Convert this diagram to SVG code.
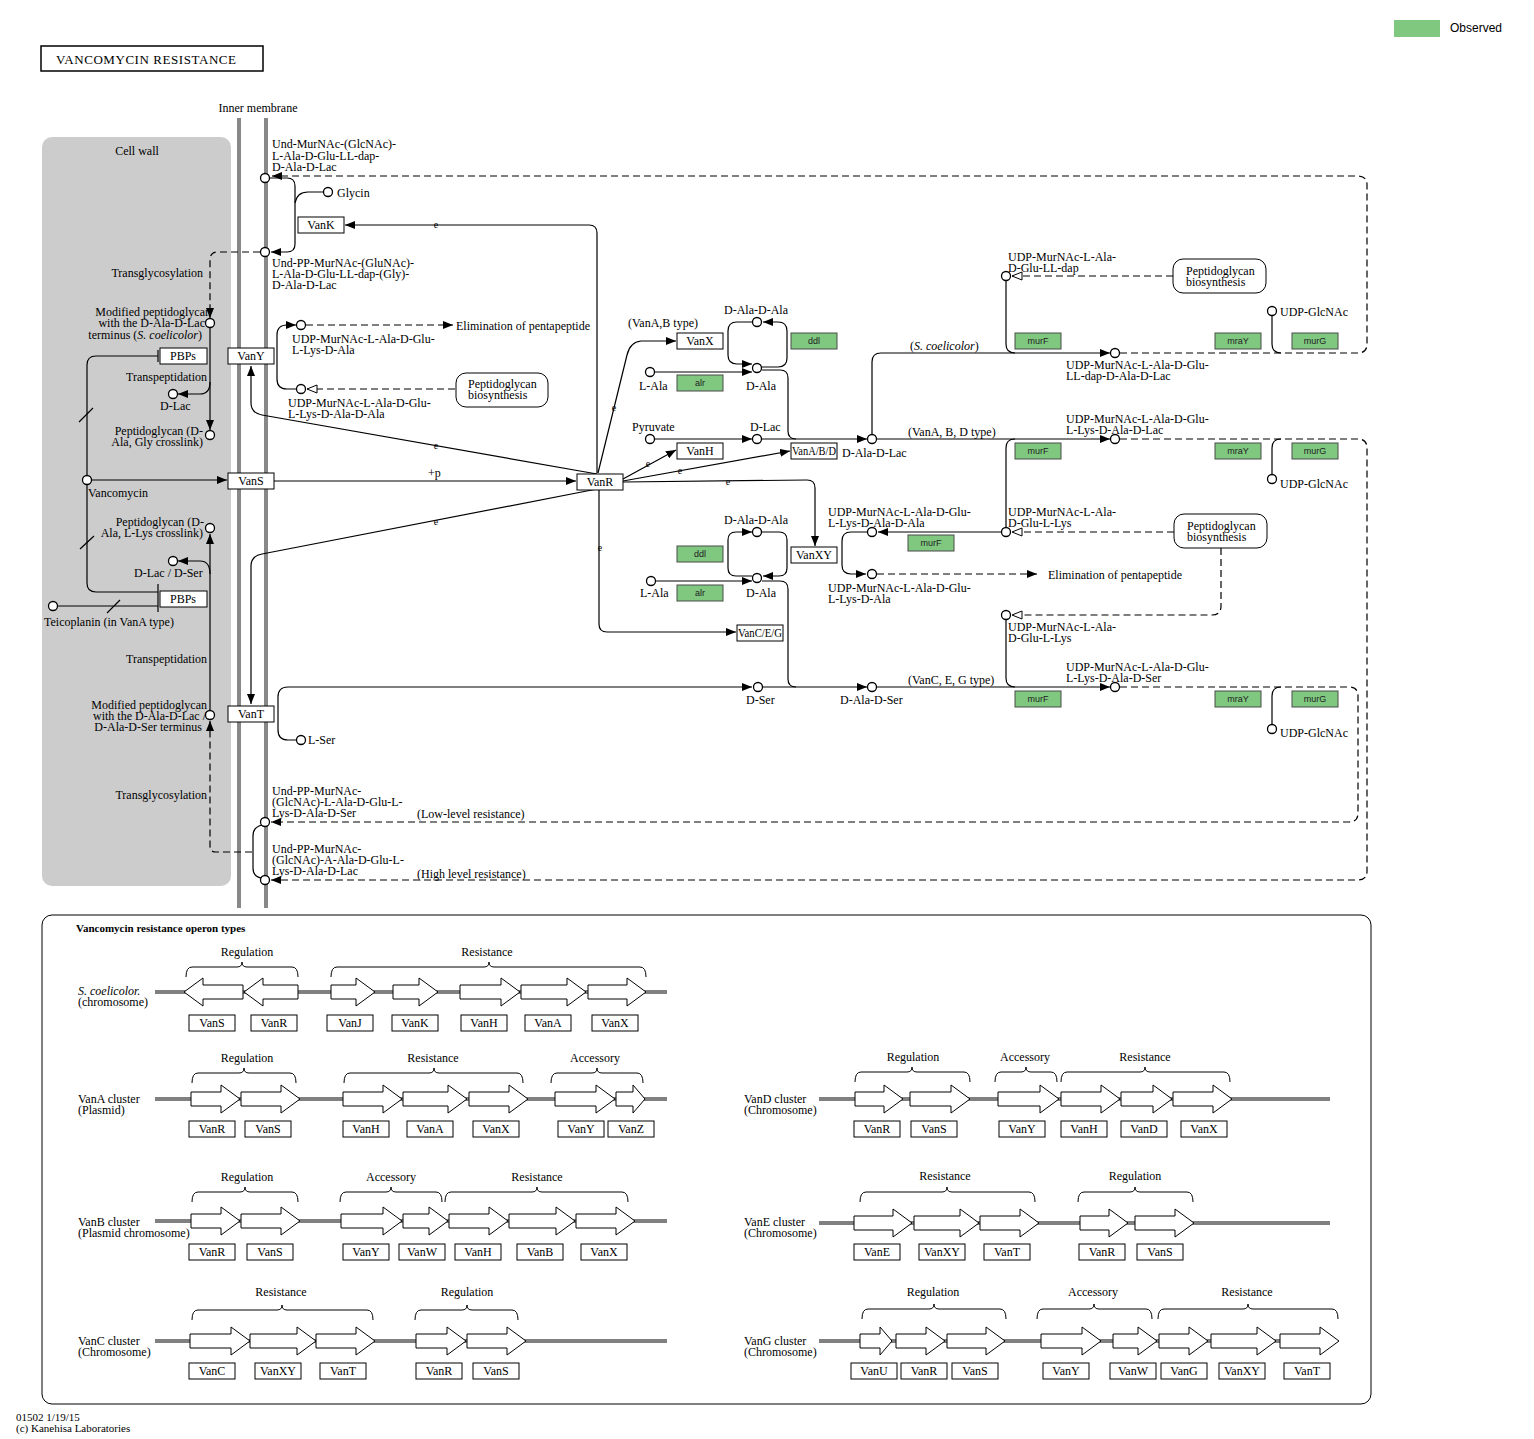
<svg xmlns="http://www.w3.org/2000/svg" width="1534" height="1439" viewBox="0 0 1534 1439">
<defs>
<style>
.t{font-family:"Liberation Serif",serif;font-size:12px;fill:#000}
.r{text-anchor:end}
.m{text-anchor:middle}
.e{font-family:"Liberation Serif",serif;font-size:10px;text-anchor:middle;fill:#000}
.g{font-family:"Liberation Sans",sans-serif;font-size:9px;fill:#222;text-anchor:middle}
.c{fill:#fff;stroke:#000;stroke-width:1.3}
.b{fill:#fff;stroke:#000;stroke-width:1}
.en{fill:#80c880;stroke:#4a4a4a;stroke-width:1}
.ln{fill:none;stroke:#000;stroke-width:1.2}
.d{stroke-dasharray:7,4}
.gl{stroke:#808080;stroke-width:4}
.ga{fill:#fff;stroke:#000;stroke-width:1}
.br{fill:none;stroke:#000;stroke-width:1}
.mem{stroke:#888;stroke-width:4}
.pb{fill:#fff;stroke:#000;stroke-width:1}
</style>
<marker id="a" viewBox="0 0 10 8" refX="10" refY="4" markerWidth="10" markerHeight="8" orient="auto" markerUnits="userSpaceOnUse"><path d="M0,0L10,4L0,8z" fill="#000"/></marker>
<marker id="o" viewBox="0 0 12 10" refX="11" refY="5" markerWidth="12" markerHeight="10" orient="auto" markerUnits="userSpaceOnUse"><path d="M1,1L11,5L1,9z" fill="#fff" stroke="#000" stroke-width="1"/></marker>
</defs>
<rect width="1534" height="1439" fill="#fff"/>

<g id="title"><rect x="41" y="46" width="222" height="25" fill="#fff" stroke="#000" stroke-width="1.5"/><text class="t" x="56" y="64" style="font-size:13px" textLength="180">VANCOMYCIN RESISTANCE</text></g>
<g id="legend"><rect x="1394" y="20" width="46" height="17" fill="#80c880"/><text x="1450" y="32" font-family="Liberation Sans, sans-serif" font-size="12">Observed</text></g>

<g id="cellwall"><rect x="42" y="137" width="189" height="749" rx="10" fill="#ccc"/><text class="t m" x="137" y="155">Cell wall</text></g>
<g id="membrane"><line class="mem" x1="239" y1="118" x2="239" y2="908"/><line class="mem" x1="266" y1="118" x2="266" y2="908"/><text class="t m" x="258" y="112">Inner membrane</text></g>

<g id="connectors">
<path class="ln" d="M270,178L287,178Q295,178 295,186L295,244Q295,252 287,252L271,252" marker-end="url(#a)"/>
<path class="ln" d="M323,192L308,192Q297,192 295,203"/>
<path class="ln" d="M597,473L597,233Q597,225 589,225L345,225" marker-end="url(#a)"/>
<path class="ln d" d="M260,252L218,252Q210,252 210,260L210,318" marker-end="url(#a)"/>
<path class="ln" d="M210,328L210,430" marker-end="url(#a)"/>
<path class="ln" d="M210,382Q210,394 200,394L178,394" marker-end="url(#a)"/>
<path class="ln" d="M87,475L87,365Q87,356 96,356L158,356M158,350L158,362"/>
<path class="ln" d="M79,422L93,408M80,549L94,536M107,613L120,600"/>
<path class="ln" d="M92,480L227,480" marker-end="url(#a)"/>
<path class="ln" d="M274,481L576,481" marker-end="url(#a)"/>
<path class="ln" d="M87,485L87,583Q87,592 96,592L158,592M158,584L158,612M58,606L158,606"/>
<path class="ln" d="M210,710L210,534" marker-end="url(#a)"/>
<path class="ln" d="M210,574Q210,561 200,561L178,561" marker-end="url(#a)"/>
<path class="ln d" d="M252,852L216,852Q210,852 210,846L210,721" marker-end="url(#a)"/>
<path class="ln" d="M262,825Q253,827 253,836L253,868Q253,877 262,878"/>
<path class="ln" d="M597,474L262,415Q251,413 251,403L251,366" marker-end="url(#a)"/>
<path class="ln" d="M597,489L262,554Q251,556 251,566L251,704" marker-end="url(#a)"/>
<path class="ln" d="M296,740L288,740Q278,740 278,730L278,697Q278,687 288,687L752,687" marker-end="url(#a)"/>
<path class="ln" d="M296,389L287,389Q277,389 277,379L277,335Q277,325 287,325L296,325" marker-end="url(#a)"/>
<path class="ln d" d="M306,325L453,325" marker-end="url(#a)"/>
<path class="ln d" d="M455,389L307,389" marker-end="url(#o)"/>
<path class="ln" d="M598,473L627,355Q630,342 641,341L676,341" marker-end="url(#a)"/>
<path class="ln" d="M752,322L737,322Q728,322 728,331L728,355Q728,364 737,364L752,364" marker-end="url(#a)"/>
<path class="ln" d="M762,367L778,367Q787,367 787,358L787,331Q787,322 778,322L763,322" marker-end="url(#a)"/>
<path class="ln" d="M655,372L752,372" marker-end="url(#a)"/>
<path class="ln" d="M762,370L780,370Q788,370 788,378L788,431Q788,439 796,439"/>
<path class="ln" d="M655,439L752,439" marker-end="url(#a)"/>
<path class="ln" d="M762,439L867,439" marker-end="url(#a)"/>
<path class="ln" d="M623,479L676,450" marker-end="url(#a)"/>
<path class="ln" d="M623,481L790,451" marker-end="url(#a)"/>
<path class="ln" d="M623,482L807,480Q815,480 815,488L815,546" marker-end="url(#a)"/>
<path class="ln" d="M599,490L599,624Q599,632 607,632L736,632" marker-end="url(#a)"/>
<path class="ln" d="M752,576L736,576Q728,576 728,568L728,540Q728,532 736,532L752,532" marker-end="url(#a)"/>
<path class="ln" d="M762,532L779,532Q787,532 787,540L787,568Q787,576 779,576L763,576" marker-end="url(#a)"/>
<path class="ln" d="M656,581L752,581" marker-end="url(#a)"/>
<path class="ln" d="M762,581L780,581Q788,581 788,589L788,679Q788,687 796,687"/>
<path class="ln" d="M763,687L867,687" marker-end="url(#a)"/>
<path class="ln" d="M872,434L872,362Q872,353 881,353L1110,353" marker-end="url(#a)"/>
<path class="ln" d="M877,439L1110,439" marker-end="url(#a)"/>
<path class="ln" d="M1006,281L1006,344Q1006,353 1015,353"/>
<path class="ln d" d="M1173,276L1012,276" marker-end="url(#o)"/>
<path class="ln" d="M1272,316L1272,344Q1272,353 1281,353"/>
<path class="ln d" d="M1120,353L1358,353Q1367,353 1367,344L1367,185Q1367,176 1358,176L272,176" marker-end="url(#a)"/>
<path class="ln" d="M1006,527L1006,448Q1006,439 1015,439"/>
<path class="ln" d="M1272,474L1272,448Q1272,439 1281,439"/>
<path class="ln d" d="M1120,439L1358,439Q1367,439 1367,448L1367,871Q1367,880 1358,880L271,880" marker-end="url(#a)"/>
<path class="ln" d="M1001,532L878,532" marker-end="url(#a)"/>
<path class="ln d" d="M1174,532L1012,532" marker-end="url(#o)"/>
<path class="ln" d="M867,532L851,532Q842,532 842,541L842,565Q842,574 851,574L866,574" marker-end="url(#a)"/>
<path class="ln d" d="M877,574L1037,574" marker-end="url(#a)"/>
<path class="ln d" d="M1221,548L1221,606Q1221,615 1212,615L1012,615" marker-end="url(#o)"/>
<path class="ln" d="M1006,620L1006,678Q1006,687 1015,687"/>
<path class="ln" d="M877,687L1110,687" marker-end="url(#a)"/>
<path class="ln" d="M1272,724L1272,696Q1272,687 1281,687"/>
<path class="ln d" d="M1120,687L1349,687Q1358,687 1358,696L1358,813Q1358,822 1349,822L271,822" marker-end="url(#a)"/>
<text class="e" x="436" y="228">e</text>
<text class="e" x="436" y="449">e</text>
<text class="e" x="436" y="525">e</text>
<text class="e" x="614" y="411">e</text>
<text class="e" x="648" y="467">e</text>
<text class="e" x="680" y="474">e</text>
<text class="e" x="728" y="485">e</text>
<text class="e" x="600" y="551">e</text>
<text class="t" x="428" y="477">+p</text>
</g>

<g id="n-C1"><circle class="c" cx="265" cy="178" r="4.5"/><text class="t" x="272" y="148">Und-MurNAc-(GlcNAc)-</text><text class="t" x="272" y="160">L-Ala-D-Glu-LL-dap-</text><text class="t" x="272" y="171">D-Ala-D-Lac</text></g>
<g id="n-Glycin"><circle class="c" cx="328" cy="192" r="4.5"/><text class="t" x="337" y="197">Glycin</text></g>
<g id="n-C2"><circle class="c" cx="265" cy="252" r="4.5"/><text class="t" x="272" y="267">Und-PP-MurNAc-(GluNAc)-</text><text class="t" x="272" y="278">L-Ala-D-Glu-LL-dap-(Gly)-</text><text class="t" x="272" y="289">D-Ala-D-Lac</text></g>
<g id="n-VanK"><rect class="b" x="298" y="217" width="46" height="16"/><text class="t m" x="321" y="229">VanK</text></g>
<g id="lbl-transgly1"><text class="t r" x="203" y="277">Transglycosylation</text></g>
<g id="n-ModPep1"><circle class="c" cx="210" cy="323" r="4.5"/><text class="t r" x="211" y="316">Modified peptidoglycan</text><text class="t r" x="205" y="327">with the D-Ala-D-Lac</text><text class="t r" x="202" y="339">terminus (<tspan font-style="italic">S. coelicolor</tspan>)</text></g>
<g id="n-PBPs1"><rect class="b" x="160" y="348" width="47" height="16"/><text class="t m" x="183" y="360">PBPs</text></g>
<g id="lbl-transpep1"><text class="t r" x="207" y="381">Transpeptidation</text></g>
<g id="n-DLac1"><circle class="c" cx="173" cy="394" r="4.5"/><text class="t" x="160" y="410">D-Lac</text></g>
<g id="n-PepGly"><circle class="c" cx="210" cy="435" r="4.5"/><text class="t r" x="203" y="435">Peptidoglycan (D-</text><text class="t r" x="203" y="446">Ala, Gly crosslink)</text></g>
<g id="n-Vanc"><circle class="c" cx="87" cy="480" r="4.5"/><text class="t" x="88" y="497">Vancomycin</text></g>
<g id="n-PepLys"><circle class="c" cx="210" cy="528" r="4.5"/><text class="t r" x="204" y="526">Peptidoglycan (D-</text><text class="t r" x="203" y="537">Ala, L-Lys crosslink)</text></g>
<g id="n-DLacDSer"><circle class="c" cx="173" cy="561" r="4.5"/><text class="t" x="134" y="577">D-Lac / D-Ser</text></g>
<g id="n-PBPs2"><rect class="b" x="160" y="591" width="47" height="16"/><text class="t m" x="183" y="603">PBPs</text></g>
<g id="n-Teico"><circle class="c" cx="53" cy="606" r="4.5"/><text class="t" x="44" y="626">Teicoplanin (in VanA type)</text></g>
<g id="lbl-transpep2"><text class="t r" x="207" y="663">Transpeptidation</text></g>
<g id="n-ModPep2"><circle class="c" cx="210" cy="715" r="4.5"/><text class="t r" x="207" y="709">Modified peptidoglycan</text><text class="t r" x="206" y="720">with the D-Ala-D-Lac /</text><text class="t r" x="202" y="731">D-Ala-D-Ser terminus</text></g>
<g id="lbl-transgly2"><text class="t r" x="207" y="799">Transglycosylation</text></g>
<g id="n-UndLow"><circle class="c" cx="265" cy="822" r="4.5"/><text class="t" x="272" y="795">Und-PP-MurNAc-</text><text class="t" x="272" y="806">(GlcNAc)-L-Ala-D-Glu-L-</text><text class="t" x="272" y="817">Lys-D-Ala-D-Ser</text><text class="t" x="417" y="818">(Low-level resistance)</text></g>
<g id="n-UndHigh"><circle class="c" cx="265" cy="880" r="4.5"/><text class="t" x="272" y="853">Und-PP-MurNAc-</text><text class="t" x="272" y="864">(GlcNAc)-A-Ala-D-Glu-L-</text><text class="t" x="272" y="875">Lys-D-Ala-D-Lac</text><text class="t" x="417" y="878">(High level resistance)</text></g>
<g id="n-VanY"><rect class="b" x="228" y="348" width="46" height="16"/><text class="t m" x="251" y="360">VanY</text></g>
<g id="n-VanS"><rect class="b" x="228" y="473" width="46" height="16"/><text class="t m" x="251" y="485">VanS</text></g>
<g id="n-VanT"><rect class="b" x="228" y="706" width="46" height="16"/><text class="t m" x="251" y="718">VanT</text></g>
<g id="n-VanR"><rect class="b" x="577" y="474" width="46" height="16"/><text class="t m" x="600" y="486">VanR</text></g>
<g id="n-LSer"><circle class="c" cx="301" cy="740" r="4.5"/><text class="t" x="308" y="744">L-Ser</text></g>
<g id="n-UDPLysDAla1"><circle class="c" cx="301" cy="325" r="4.5"/><text class="t" x="292" y="343">UDP-MurNAc-L-Ala-D-Glu-</text><text class="t" x="292" y="354">L-Lys-D-Ala</text></g>
<g id="lbl-elim1"><text class="t" x="456" y="330">Elimination of pentapeptide</text></g>
<g id="n-UDPLysDAlaDAla1"><circle class="c" cx="301" cy="389" r="4.5"/><text class="t" x="288" y="407">UDP-MurNAc-L-Ala-D-Glu-</text><text class="t" x="288" y="418">L-Lys-D-Ala-D-Ala</text></g>
<g id="n-PB1"><rect class="pb" x="456" y="373" width="92" height="34" rx="10"/><text class="t" x="468" y="388">Peptidoglycan</text><text class="t" x="468" y="399">biosynthesis</text></g>
<g id="n-VanX"><rect class="b" x="677" y="333" width="46" height="16"/><text class="t m" x="700" y="345">VanX</text><text class="t" x="628" y="327">(VanA,B type)</text></g>
<g id="n-DAlaDAla1"><circle class="c" cx="757" cy="322" r="4.5"/><text class="t" x="724" y="314">D-Ala-D-Ala</text></g>
<g id="n-ddl1"><rect class="en" x="791" y="333" width="46" height="16"/><text class="g" x="814" y="344">ddl</text></g>
<g id="n-DAla1"><circle class="c" cx="757" cy="368" r="4.5"/><text class="t" x="746" y="390">D-Ala</text></g>
<g id="n-LAla1"><circle class="c" cx="650" cy="372" r="4.5"/><text class="t" x="639" y="390">L-Ala</text></g>
<g id="n-alr1"><rect class="en" x="677" y="375" width="46" height="16"/><text class="g" x="700" y="386">alr</text></g>
<g id="n-Pyr"><circle class="c" cx="650" cy="439" r="4.5"/><text class="t" x="632" y="431">Pyruvate</text></g>
<g id="n-DLac"><circle class="c" cx="757" cy="439" r="4.5"/><text class="t" x="750" y="431">D-Lac</text></g>
<g id="n-VanH"><rect class="b" x="677" y="443" width="46" height="16"/><text class="t m" x="700" y="455">VanH</text></g>
<g id="n-VanABD"><rect class="b" x="791" y="443" width="46" height="16"/><text class="t" x="792" y="455" textLength="44" lengthAdjust="spacingAndGlyphs">VanA/B/D</text></g>
<g id="n-DAlaDLac"><circle class="c" cx="872" cy="439" r="4.5"/><text class="t" x="842" y="457">D-Ala-D-Lac</text></g>
<g id="n-VanXY"><rect class="b" x="791" y="547" width="46" height="16"/><text class="t m" x="814" y="559">VanXY</text></g>
<g id="n-VanCEG"><rect class="b" x="737" y="625" width="46" height="16"/><text class="t" x="738" y="637" textLength="44" lengthAdjust="spacingAndGlyphs">VanC/E/G</text></g>
<g id="n-DAlaDAla2"><circle class="c" cx="757" cy="532" r="4.5"/><text class="t" x="724" y="524">D-Ala-D-Ala</text></g>
<g id="n-ddl2"><rect class="en" x="677" y="546" width="46" height="16"/><text class="g" x="700" y="557">ddl</text></g>
<g id="n-DAla2"><circle class="c" cx="757" cy="578" r="4.5"/><text class="t" x="746" y="597">D-Ala</text></g>
<g id="n-LAla2"><circle class="c" cx="651" cy="581" r="4.5"/><text class="t" x="640" y="597">L-Ala</text></g>
<g id="n-alr2"><rect class="en" x="677" y="585" width="46" height="16"/><text class="g" x="700" y="596">alr</text></g>
<g id="n-DSer"><circle class="c" cx="758" cy="687" r="4.5"/><text class="t" x="746" y="704">D-Ser</text></g>
<g id="n-DAlaDSer"><circle class="c" cx="872" cy="687" r="4.5"/><text class="t" x="840" y="704">D-Ala-D-Ser</text></g>
<g id="lbl-types"><text class="t" x="910" y="350">(<tspan font-style="italic">S. coelicolor</tspan>)</text><text class="t" x="908" y="436">(VanA, B, D type)</text><text class="t" x="908" y="684">(VanC, E, G type)</text></g>
<g id="n-LLdap"><circle class="c" cx="1006" cy="276" r="4.5"/><text class="t" x="1008" y="261">UDP-MurNAc-L-Ala-</text><text class="t" x="1008" y="272">D-Glu-LL-dap</text></g>
<g id="n-PB2"><rect class="pb" x="1173" y="259" width="93" height="34" rx="10"/><text class="t" x="1186" y="275">Peptidoglycan</text><text class="t" x="1186" y="286">biosynthesis</text></g>
<g id="n-GlcNAc1"><circle class="c" cx="1272" cy="311" r="4.5"/><text class="t" x="1280" y="316">UDP-GlcNAc</text></g>
<g id="n-murF1"><rect class="en" x="1015" y="333" width="46" height="16"/><text class="g" x="1038" y="344">murF</text></g>
<g id="n-mraY1"><rect class="en" x="1215" y="333" width="46" height="16"/><text class="g" x="1238" y="344">mraY</text></g>
<g id="n-murG1"><rect class="en" x="1292" y="333" width="46" height="16"/><text class="g" x="1315" y="344">murG</text></g>
<g id="n-UDPdapLac"><circle class="c" cx="1115" cy="353" r="4.5"/><text class="t" x="1066" y="369">UDP-MurNAc-L-Ala-D-Glu-</text><text class="t" x="1066" y="380">LL-dap-D-Ala-D-Lac</text></g>
<g id="n-UDPLysLac"><circle class="c" cx="1115" cy="439" r="4.5"/><text class="t" x="1066" y="423">UDP-MurNAc-L-Ala-D-Glu-</text><text class="t" x="1066" y="434">L-Lys-D-Ala-D-Lac</text></g>
<g id="n-murF2"><rect class="en" x="1015" y="443" width="46" height="16"/><text class="g" x="1038" y="454">murF</text></g>
<g id="n-mraY2"><rect class="en" x="1215" y="443" width="46" height="16"/><text class="g" x="1238" y="454">mraY</text></g>
<g id="n-murG2"><rect class="en" x="1292" y="443" width="46" height="16"/><text class="g" x="1315" y="454">murG</text></g>
<g id="n-GlcNAc2"><circle class="c" cx="1272" cy="479" r="4.5"/><text class="t" x="1280" y="488">UDP-GlcNAc</text></g>
<g id="n-UDPLysAlaAla2"><circle class="c" cx="872" cy="532" r="4.5"/><text class="t" x="828" y="516">UDP-MurNAc-L-Ala-D-Glu-</text><text class="t" x="828" y="527">L-Lys-D-Ala-D-Ala</text></g>
<g id="n-murF3"><rect class="en" x="908" y="535" width="46" height="16"/><text class="g" x="931" y="546">murF</text></g>
<g id="n-LLys1"><circle class="c" cx="1006" cy="532" r="4.5"/><text class="t" x="1008" y="516">UDP-MurNAc-L-Ala-</text><text class="t" x="1008" y="527">D-Glu-L-Lys</text></g>
<g id="n-PB3"><rect class="pb" x="1174" y="514" width="93" height="34" rx="10"/><text class="t" x="1187" y="530">Peptidoglycan</text><text class="t" x="1187" y="541">biosynthesis</text></g>
<g id="n-UDPLysAla2"><circle class="c" cx="872" cy="574" r="4.5"/><text class="t" x="828" y="592">UDP-MurNAc-L-Ala-D-Glu-</text><text class="t" x="828" y="603">L-Lys-D-Ala</text></g>
<g id="lbl-elim2"><text class="t" x="1048" y="579">Elimination of pentapeptide</text></g>
<g id="n-LLys2"><circle class="c" cx="1006" cy="615" r="4.5"/><text class="t" x="1008" y="631">UDP-MurNAc-L-Ala-</text><text class="t" x="1008" y="642">D-Glu-L-Lys</text></g>
<g id="n-UDPLysSer"><circle class="c" cx="1115" cy="687" r="4.5"/><text class="t" x="1066" y="671">UDP-MurNAc-L-Ala-D-Glu-</text><text class="t" x="1066" y="682">L-Lys-D-Ala-D-Ser</text></g>
<g id="n-murF4"><rect class="en" x="1015" y="691" width="46" height="16"/><text class="g" x="1038" y="702">murF</text></g>
<g id="n-mraY3"><rect class="en" x="1215" y="691" width="46" height="16"/><text class="g" x="1238" y="702">mraY</text></g>
<g id="n-murG3"><rect class="en" x="1292" y="691" width="46" height="16"/><text class="g" x="1315" y="702">murG</text></g>
<g id="n-GlcNAc3"><circle class="c" cx="1272" cy="729" r="4.5"/><text class="t" x="1280" y="737">UDP-GlcNAc</text></g>

<g id="operon-panel">
<rect x="42" y="915" width="1329" height="489" rx="10" fill="none" stroke="#000" stroke-width="1"/>
<text class="t" x="76" y="932" style="font-size:11px;font-weight:bold">Vancomycin resistance operon types</text>
<g class="gl"><line x1="155" y1="992" x2="667" y2="992"/><line x1="155" y1="1099" x2="667" y2="1099"/><line x1="155" y1="1221" x2="667" y2="1221"/><line x1="155" y1="1341" x2="667" y2="1341"/><line x1="819" y1="1099" x2="1330" y2="1099"/><line x1="819" y1="1223" x2="1330" y2="1223"/><line x1="819" y1="1341" x2="1330" y2="1341"/></g>
<g class="ga">
<path d="M243,985h-40v-7l-19,14l19,14v-7h40z"/><path d="M298,985h-35v-7l-19,14l19,14v-7h35z"/>
<path d="M331,985h25v-7l19,14l-19,14v-7h-25z"/><path d="M393,985h26v-7l19,14l-19,14v-7h-26z"/><path d="M460,985h41v-7l19,14l-19,14v-7h-41z"/><path d="M521,985h46v-7l19,14l-19,14v-7h-46z"/><path d="M588,985h39v-7l19,14l-19,14v-7h-39z"/>
<path d="M191,1092h30v-7l19,14l-19,14v-7h-30z"/><path d="M241,1092h40v-7l19,14l-19,14v-7h-40z"/><path d="M343,1092h40v-7l19,14l-19,14v-7h-40z"/><path d="M403,1092h45v-7l19,14l-19,14v-7h-45z"/><path d="M469,1092h40v-7l19,14l-19,14v-7h-40z"/><path d="M555,1092h41v-7l19,14l-19,14v-7h-41z"/><path d="M616,1092h17v-7l12,14l-12,14v-7h-17z"/>
<path d="M191,1214h30v-7l19,14l-19,14v-7h-30z"/><path d="M241,1214h40v-7l19,14l-19,14v-7h-40z"/><path d="M341,1214h42v-7l19,14l-19,14v-7h-42z"/><path d="M403,1214h26v-7l19,14l-19,14v-7h-26z"/><path d="M449,1214h40v-7l19,14l-19,14v-7h-40z"/><path d="M509,1214h47v-7l19,14l-19,14v-7h-47z"/><path d="M576,1214h40v-7l19,14l-19,14v-7h-40z"/>
<path d="M190,1334h41v-7l19,14l-19,14v-7h-41z"/><path d="M250,1334h47v-7l19,14l-19,14v-7h-47z"/><path d="M316,1334h40v-7l19,14l-19,14v-7h-40z"/><path d="M416,1334h31v-7l19,14l-19,14v-7h-31z"/><path d="M467,1334h40v-7l19,14l-19,14v-7h-40z"/>
<path d="M855,1092h29v-7l19,14l-19,14v-7h-29z"/><path d="M910,1092h41v-7l19,14l-19,14v-7h-41z"/><path d="M998,1092h42v-7l19,14l-19,14v-7h-42z"/><path d="M1061,1092h40v-7l19,14l-19,14v-7h-40z"/><path d="M1121,1092h32v-7l19,14l-19,14v-7h-32z"/><path d="M1173,1092h40v-7l19,14l-19,14v-7h-40z"/>
<path d="M854,1216h39v-7l19,14l-19,14v-7h-39z"/><path d="M914,1216h46v-7l19,14l-19,14v-7h-46z"/><path d="M980,1216h40v-7l19,14l-19,14v-7h-40z"/><path d="M1080,1216h29v-7l19,14l-19,14v-7h-29z"/><path d="M1135,1216h40v-7l19,14l-19,14v-7h-40z"/>
<path d="M860,1334h20v-7l12,14l-12,14v-7h-20z"/><path d="M896,1334h30v-7l19,14l-19,14v-7h-30z"/><path d="M947,1334h39v-7l19,14l-19,14v-7h-39z"/><path d="M1041,1334h41v-7l19,14l-19,14v-7h-41z"/><path d="M1113,1334h25v-7l19,14l-19,14v-7h-25z"/><path d="M1159,1334h30v-7l19,14l-19,14v-7h-30z"/><path d="M1211,1334h46v-7l19,14l-19,14v-7h-46z"/><path d="M1280,1334h40v-7l19,14l-19,14v-7h-40z"/>
</g>
<g class="br">
<path d="M186,977Q186,967 192,967L237,967Q242,967 242,962Q242,967 247,967L292,967Q298,967 298,977"/>
<path d="M331,977Q331,967 337,967L484,967Q489,967 489,962Q489,967 494,967L640,967Q646,967 646,977"/>
<path d="M192,1083Q192,1073 198,1073L239,1073Q244,1073 244,1068Q244,1073 249,1073L290,1073Q296,1073 296,1083"/>
<path d="M344,1083Q344,1073 350,1073L429,1073Q434,1073 434,1068Q434,1073 439,1073L517,1073Q523,1073 523,1083"/>
<path d="M551,1083Q551,1073 557,1073L592,1073Q597,1073 597,1068Q597,1073 602,1073L637,1073Q643,1073 643,1083"/>
<path d="M192,1202Q192,1192 198,1192L240,1192Q245,1192 245,1187Q245,1192 250,1192L292,1192Q298,1192 298,1202"/>
<path d="M340,1202Q340,1192 346,1192L386,1192Q391,1192 391,1187Q391,1192 396,1192L436,1192Q442,1192 442,1202"/>
<path d="M445,1202Q445,1192 451,1192L532,1192Q537,1192 537,1187Q537,1192 542,1192L622,1192Q628,1192 628,1202"/>
<path d="M192,1320Q192,1310 198,1310L277,1310Q282,1310 282,1305Q282,1310 287,1310L367,1310Q373,1310 373,1320"/>
<path d="M415,1320Q415,1310 421,1310L462,1310Q467,1310 467,1305Q467,1310 472,1310L512,1310Q518,1310 518,1320"/>
<path d="M855,1082Q855,1072 861,1072L907,1072Q912,1072 912,1067Q912,1072 917,1072L964,1072Q970,1072 970,1082"/>
<path d="M995,1082Q995,1072 1001,1072L1021,1072Q1026,1072 1026,1067Q1026,1072 1031,1072L1051,1072Q1057,1072 1057,1082"/>
<path d="M1061,1082Q1061,1072 1067,1072L1140,1072Q1145,1072 1145,1067Q1145,1072 1150,1072L1224,1072Q1230,1072 1230,1082"/>
<path d="M860,1202Q860,1192 866,1192L942,1192Q947,1192 947,1187Q947,1192 952,1192L1029,1192Q1035,1192 1035,1202"/>
<path d="M1078,1202Q1078,1192 1084,1192L1130,1192Q1135,1192 1135,1187Q1135,1192 1140,1192L1187,1192Q1193,1192 1193,1202"/>
<path d="M862,1319Q862,1309 868,1309L929,1309Q934,1309 934,1304Q934,1309 939,1309L1000,1309Q1006,1309 1006,1319"/>
<path d="M1037,1319Q1037,1309 1043,1309L1089,1309Q1094,1309 1094,1304Q1094,1309 1099,1309L1146,1309Q1152,1309 1152,1319"/>
<path d="M1158,1319Q1158,1309 1164,1309L1243,1309Q1248,1309 1248,1304Q1248,1309 1253,1309L1332,1309Q1338,1309 1338,1319"/>
</g>
<g>
<text class="t m" x="247" y="956">Regulation</text><text class="t m" x="487" y="956">Resistance</text>
<text class="t m" x="247" y="1062">Regulation</text><text class="t m" x="433" y="1062">Resistance</text><text class="t m" x="595" y="1062">Accessory</text>
<text class="t m" x="247" y="1181">Regulation</text><text class="t m" x="391" y="1181">Accessory</text><text class="t m" x="537" y="1181">Resistance</text>
<text class="t m" x="281" y="1296">Resistance</text><text class="t m" x="467" y="1296">Regulation</text>
<text class="t m" x="913" y="1061">Regulation</text><text class="t m" x="1025" y="1061">Accessory</text><text class="t m" x="1145" y="1061">Resistance</text>
<text class="t m" x="945" y="1180">Resistance</text><text class="t m" x="1135" y="1180">Regulation</text>
<text class="t m" x="933" y="1296">Regulation</text><text class="t m" x="1093" y="1296">Accessory</text><text class="t m" x="1247" y="1296">Resistance</text>
</g>
<g>
<text class="t" x="78" y="995"><tspan font-style="italic">S. coelicolor.</tspan></text><text class="t" x="78" y="1006">(chromosome)</text>
<text class="t" x="78" y="1103">VanA cluster</text><text class="t" x="78" y="1114">(Plasmid)</text>
<text class="t" x="78" y="1226">VanB cluster</text><text class="t" x="78" y="1237">(Plasmid chromosome)</text>
<text class="t" x="78" y="1345">VanC cluster</text><text class="t" x="78" y="1356">(Chromosome)</text>
<text class="t" x="744" y="1103">VanD cluster</text><text class="t" x="744" y="1114">(Chromosome)</text>
<text class="t" x="744" y="1226">VanE cluster</text><text class="t" x="744" y="1237">(Chromosome)</text>
<text class="t" x="744" y="1345">VanG cluster</text><text class="t" x="744" y="1356">(Chromosome)</text>
</g>
<g id="gene-boxes">
<g class="b"><rect x="189" y="1015" width="46" height="16"/><rect x="251" y="1015" width="46" height="16"/><rect x="327" y="1015" width="46" height="16"/><rect x="392" y="1015" width="46" height="16"/><rect x="461" y="1015" width="46" height="16"/><rect x="525" y="1015" width="46" height="16"/><rect x="592" y="1015" width="46" height="16"/>
<rect x="189" y="1121" width="46" height="16"/><rect x="245" y="1121" width="46" height="16"/><rect x="343" y="1121" width="46" height="16"/><rect x="407" y="1121" width="46" height="16"/><rect x="473" y="1121" width="46" height="16"/><rect x="558" y="1121" width="46" height="16"/><rect x="608" y="1121" width="46" height="16"/>
<rect x="189" y="1244" width="46" height="16"/><rect x="247" y="1244" width="46" height="16"/><rect x="343" y="1244" width="46" height="16"/><rect x="399" y="1244" width="46" height="16"/><rect x="455" y="1244" width="46" height="16"/><rect x="517" y="1244" width="46" height="16"/><rect x="581" y="1244" width="46" height="16"/>
<rect x="189" y="1363" width="46" height="16"/><rect x="255" y="1363" width="46" height="16"/><rect x="320" y="1363" width="46" height="16"/><rect x="416" y="1363" width="46" height="16"/><rect x="473" y="1363" width="46" height="16"/>
<rect x="854" y="1121" width="46" height="16"/><rect x="911" y="1121" width="46" height="16"/><rect x="999" y="1121" width="46" height="16"/><rect x="1061" y="1121" width="46" height="16"/><rect x="1121" y="1121" width="46" height="16"/><rect x="1181" y="1121" width="46" height="16"/>
<rect x="854" y="1244" width="46" height="16"/><rect x="919" y="1244" width="46" height="16"/><rect x="984" y="1244" width="46" height="16"/><rect x="1079" y="1244" width="46" height="16"/><rect x="1137" y="1244" width="46" height="16"/>
<rect x="851" y="1363" width="46" height="16"/><rect x="901" y="1363" width="46" height="16"/><rect x="952" y="1363" width="46" height="16"/><rect x="1043" y="1363" width="46" height="16"/><rect x="1110" y="1363" width="46" height="16"/><rect x="1161" y="1363" width="46" height="16"/><rect x="1219" y="1363" width="46" height="16"/><rect x="1284" y="1363" width="46" height="16"/></g>
<g class="t" text-anchor="middle">
<text x="212" y="1027">VanS</text><text x="274" y="1027">VanR</text><text x="350" y="1027">VanJ</text><text x="415" y="1027">VanK</text><text x="484" y="1027">VanH</text><text x="548" y="1027">VanA</text><text x="615" y="1027">VanX</text>
<text x="212" y="1133">VanR</text><text x="268" y="1133">VanS</text><text x="366" y="1133">VanH</text><text x="430" y="1133">VanA</text><text x="496" y="1133">VanX</text><text x="581" y="1133">VanY</text><text x="631" y="1133">VanZ</text>
<text x="212" y="1256">VanR</text><text x="270" y="1256">VanS</text><text x="366" y="1256">VanY</text><text x="422" y="1256">VanW</text><text x="478" y="1256">VanH</text><text x="540" y="1256">VanB</text><text x="604" y="1256">VanX</text>
<text x="212" y="1375">VanC</text><text x="278" y="1375">VanXY</text><text x="343" y="1375">VanT</text><text x="439" y="1375">VanR</text><text x="496" y="1375">VanS</text>
<text x="877" y="1133">VanR</text><text x="934" y="1133">VanS</text><text x="1022" y="1133">VanY</text><text x="1084" y="1133">VanH</text><text x="1144" y="1133">VanD</text><text x="1204" y="1133">VanX</text>
<text x="877" y="1256">VanE</text><text x="942" y="1256">VanXY</text><text x="1007" y="1256">VanT</text><text x="1102" y="1256">VanR</text><text x="1160" y="1256">VanS</text>
<text x="874" y="1375">VanU</text><text x="924" y="1375">VanR</text><text x="975" y="1375">VanS</text><text x="1066" y="1375">VanY</text><text x="1133" y="1375">VanW</text><text x="1184" y="1375">VanG</text><text x="1242" y="1375">VanXY</text><text x="1307" y="1375">VanT</text>
</g>
</g>
</g>

<g id="footer"><text class="t" x="16" y="1421" style="font-size:11px">01502 1/19/15</text><text class="t" x="16" y="1432" style="font-size:11px">(c) Kanehisa Laboratories</text></g>
</svg>
